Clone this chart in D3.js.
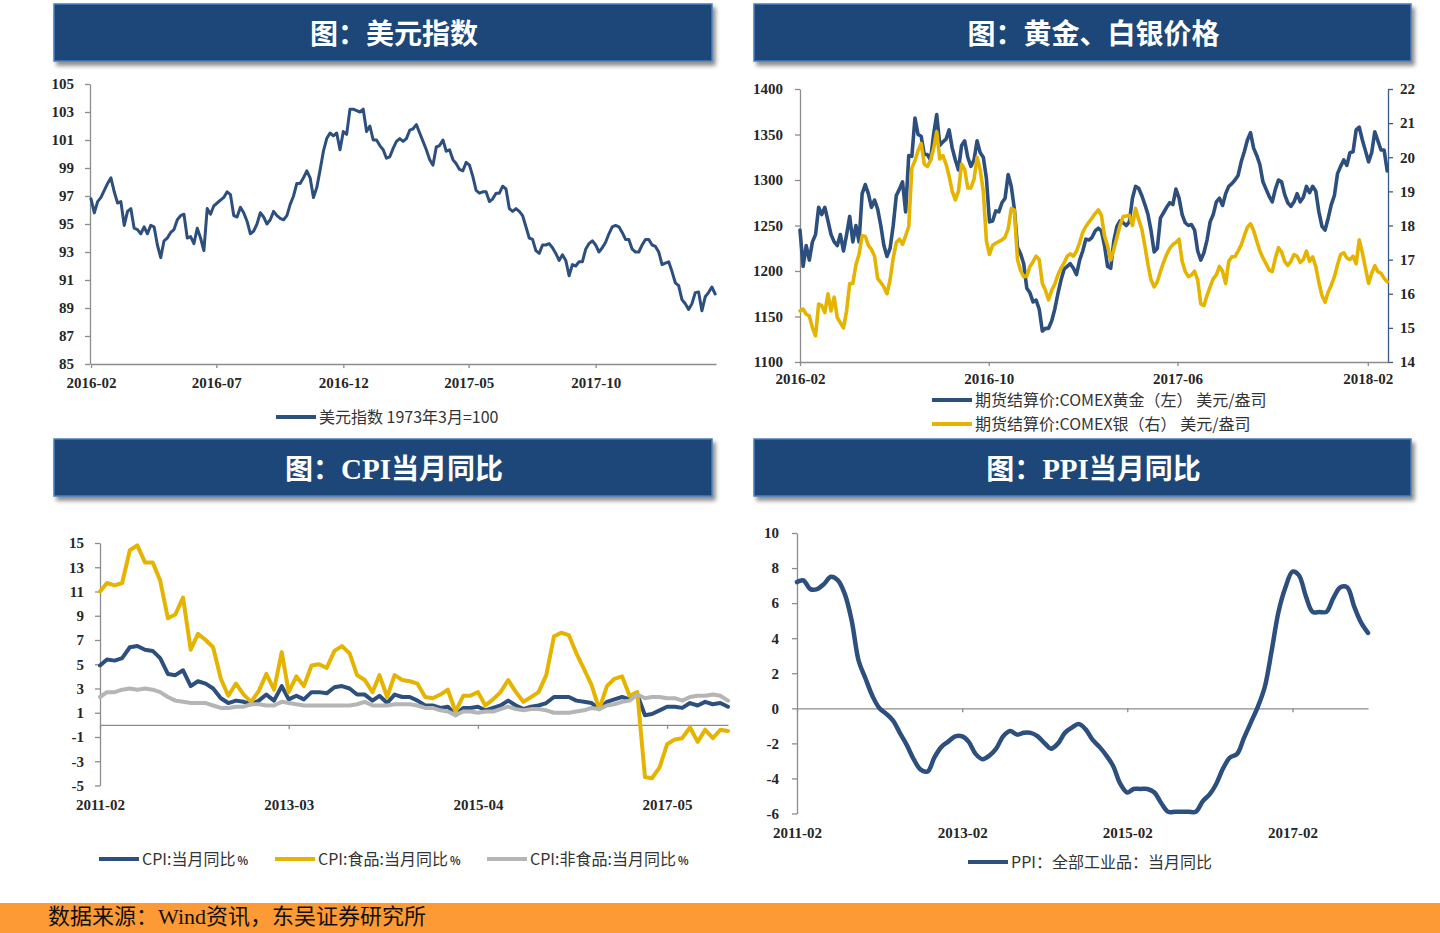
<!DOCTYPE html>
<html>
<head>
<meta charset="utf-8">
<script src="https://cdn.jsdelivr.net/npm/d3@7"></script>
<style>
body { margin: 0; background: #fff; }
svg { display: block; }
.tick text { font-family: "Liberation Serif", "Times New Roman", serif; font-weight: bold; font-size: 15px; fill: #262626; }
.legend text { font-family: "Noto Sans CJK SC", sans-serif; font-size: 16px; fill: #333; }
</style>
</head>
<body>
<svg id="chart" width="1440" height="933"></svg>
<script>
// ---- data ----
var usdStart = "2016-02-01", usdStep = 4; // one value every 4 days
var usdValues = [
96.8,95.8,96.6,96.9,97.4,97.9,98.3,97.3,96.5,96.6,
94.9,95.9,96.1,94.7,94.6,94.3,94.8,94.3,94.9,94.8,
93.5,92.6,93.8,94.0,94.4,94.6,95.3,95.6,95.7,94.0,
94.1,93.6,94.7,94.0,93.1,96.1,95.7,96.3,96.5,96.7,
96.9,97.3,97.1,95.6,95.5,96.2,95.8,95.2,94.3,94.5,
95.0,95.8,95.5,95.0,95.3,95.9,95.6,95.4,95.3,95.6,
96.4,97.0,97.9,97.9,98.3,98.8,98.3,96.9,97.6,98.85,
100.2,101.1,101.5,101.3,101.5,100.3,101.6,101.4,103.2,103.2,
103.1,103.0,103.2,101.6,102.0,101.0,101.0,100.6,100.3,99.7,
99.8,100.4,100.9,101.1,100.9,101.1,101.7,101.8,102.1,101.5,
100.9,100.3,99.6,99.2,100.5,100.6,101.0,100.2,100.3,99.6,
99.3,98.9,98.8,99.4,99.2,98.4,97.4,97.2,97.3,97.3,
96.6,96.8,97.2,97.2,97.7,97.5,96.1,95.9,96.1,95.9,
95.6,94.8,94.0,93.9,93.1,92.9,93.5,93.5,93.6,93.3,
92.9,92.4,92.8,92.4,91.3,92.1,92.0,92.3,92.3,93.2,
93.6,93.8,93.5,93.0,93.3,93.7,94.3,94.8,94.9,94.8,
94.4,93.9,93.9,93.2,93.0,93.0,93.5,93.9,93.9,93.5,
93.4,93.0,92.1,92.2,92.3,91.6,90.8,90.6,89.6,89.3,
88.9,89.3,90.1,90.15,88.8,89.8,90.1,90.5,90.0
];
var usdYTicks = [85, 87, 89, 91, 93, 95, 97, 99, 101, 103, 105];
var usdXTicks = ["2016-02", "2016-07", "2016-12", "2017-05", "2017-10"];

var metalStart = "2016-02-01", metalStep = 4;
var goldValues = [
1245,1205,1228,1212,1232,1240,1270,1262,1270,1255,
1240,1232,1228,1240,1222,1240,1260,1232,1250,1232,
1285,1295,1285,1270,1278,1268,1250,1228,1216,1225,
1250,1283,1290,1298,1265,1327,1326,1368,1350,1348,
1328,1328,1322,1350,1372,1338,1342,1345,1355,1335,
1322,1311,1338,1343,1325,1315,1322,1343,1330,1325,
1302,1254,1255,1266,1265,1275,1280,1306,1293,1268,
1226,1219,1208,1181,1176,1166,1168,1158,1134,1137,
1137,1145,1158,1175,1190,1202,1205,1208,1203,1196,
1212,1222,1235,1234,1237,1244,1247,1244,1228,1205,
1203,1233,1249,1255,1253,1250,1254,1280,1293,1291,
1283,1273,1262,1244,1221,1225,1258,1264,1270,1275,
1273,1290,1280,1262,1253,1250,1251,1245,1222,1212,
1220,1234,1254,1262,1276,1280,1272,1285,1293,1296,
1300,1305,1320,1331,1344,1352,1335,1327,1317,1298,
1290,1282,1276,1290,1300,1298,1284,1275,1271,1276,
1285,1276,1281,1293,1286,1293,1288,1265,1249,1245,
1258,1273,1283,1307,1315,1322,1316,1330,1331,1355,
1358,1344,1332,1320,1330,1353,1343,1333,1333,1310
];
var silverValues = [
15.5,15.55,15.4,15.35,15.0,14.77,15.7,15.65,15.45,16.0,
15.5,15.9,15.3,15.15,15.0,15.5,16.3,16.3,16.85,17.15,
17.7,17.68,17.42,17.3,17.1,16.45,16.33,16.2,16.0,16.41,
17.05,17.5,17.6,17.45,17.7,17.97,19.68,19.9,20.2,20.4,
19.8,19.73,19.9,20.25,20.75,19.95,20.05,19.8,19.45,19.0,
18.75,19.0,19.8,19.65,19.1,19.1,19.35,20.0,19.63,19.0,
17.55,17.15,17.42,17.48,17.53,17.58,17.66,17.9,18.5,18.45,
17.0,16.68,16.5,16.52,16.8,16.94,17.1,17.0,16.3,16.1,
15.82,16.1,16.28,16.55,16.75,16.9,17.1,17.17,17.1,17.25,
17.5,17.8,17.97,18.1,18.22,18.35,18.46,18.3,17.7,17.4,
16.99,17.3,17.65,18.0,18.26,18.28,18.3,18.0,18.5,18.17,
17.9,17.4,16.85,16.4,16.2,16.35,16.65,16.92,17.15,17.33,
17.44,17.5,17.6,16.95,16.65,16.5,16.55,16.66,16.4,15.7,
15.65,15.95,16.2,16.44,16.55,16.8,16.66,16.3,16.95,17.08,
17.09,17.25,17.43,17.7,17.95,18.05,17.85,17.55,17.25,17.05,
16.88,16.7,16.65,17.05,17.35,17.22,16.95,16.83,16.95,17.15,
17.1,16.92,17.0,17.25,16.95,17.08,16.8,16.33,15.95,15.75,
16.05,16.25,16.5,16.85,17.15,17.2,17.05,17.0,17.1,16.88,
17.58,17.2,16.75,16.3,16.6,16.82,16.65,16.6,16.45,16.35
];
var goldYTicks = [1100, 1150, 1200, 1250, 1300, 1350, 1400];
var silverYTicks = [14, 15, 16, 17, 18, 19, 20, 21, 22];
var metalXTicks = ["2016-02", "2016-10", "2017-06", "2018-02"];

// monthly, 2011-02 .. 2018-01
var monthFirst = "2011-02", monthLast = "2018-01";
var cpiAll = [
4.9,5.4,5.3,5.5,6.4,6.5,6.2,6.1,5.5,4.2,4.1,
4.5,3.2,3.6,3.4,3.0,2.2,1.8,2.0,1.9,1.7,2.0,2.5,
2.0,3.2,2.1,2.4,2.1,2.7,2.7,2.6,3.1,3.2,3.0,2.5,
2.5,2.0,2.4,1.8,2.5,2.3,2.3,2.0,1.6,1.6,1.4,1.5,
0.8,1.4,1.4,1.5,1.2,1.4,1.6,2.0,1.6,1.3,1.5,1.6,
1.8,2.3,2.3,2.3,2.0,1.9,1.8,1.3,1.9,2.1,2.3,2.1,
2.5,0.8,0.9,1.2,1.5,1.5,1.4,1.8,1.6,1.9,1.7,1.8,
1.5
];
var cpiFood = [
11.0,11.7,11.5,11.7,14.4,14.8,13.4,13.4,11.9,8.8,9.1,
10.5,6.2,7.5,7.0,6.4,3.8,2.4,3.4,2.5,1.9,2.8,4.2,
2.9,6.0,2.7,4.0,3.2,4.9,5.0,4.7,6.1,6.5,5.9,4.1,
3.7,2.7,4.1,2.3,4.1,3.7,3.6,3.4,2.3,2.2,2.5,2.9,
1.1,2.4,2.4,2.7,1.6,2.1,2.7,3.7,2.7,1.9,2.3,2.7,
4.1,7.3,7.6,7.4,5.9,4.6,3.3,1.3,3.2,3.8,4.0,2.4,
2.7,-4.3,-4.4,-3.5,-1.6,-1.2,-1.1,-0.2,-1.4,-0.4,-1.1,-0.4,
-0.5
];
var cpiNonFood = [
2.3,2.7,2.7,2.9,3.0,2.9,3.0,2.9,2.7,2.3,2.0,
1.9,1.8,1.8,1.8,1.6,1.4,1.4,1.5,1.5,1.7,1.7,1.6,
1.6,1.9,1.8,1.7,1.6,1.6,1.6,1.6,1.6,1.6,1.6,1.7,
1.9,1.6,1.6,1.6,1.7,1.7,1.7,1.6,1.4,1.4,1.2,1.1,
0.8,1.1,1.1,1.0,1.1,1.1,1.3,1.5,1.3,1.2,1.3,1.3,
1.2,1.0,1.0,1.0,1.1,1.2,1.4,1.3,1.6,1.7,1.9,2.0,
2.5,2.2,2.3,2.3,2.2,2.2,2.0,2.3,2.4,2.4,2.5,2.4,
2.0
];
var ppiAll = [
7.2,7.3,6.8,6.8,7.1,7.5,7.3,6.5,5.0,2.7,1.7,
0.7,0.0,-0.3,-0.7,-1.4,-2.1,-2.9,-3.5,-3.6,-2.8,-2.2,-1.9,
-1.6,-1.6,-1.9,-2.6,-2.9,-2.7,-2.3,-1.6,-1.3,-1.5,-1.4,-1.4,
-1.6,-2.0,-2.3,-2.0,-1.4,-1.1,-0.9,-1.2,-1.8,-2.2,-2.7,-3.3,
-4.3,-4.8,-4.6,-4.6,-4.6,-4.8,-5.4,-5.9,-5.9,-5.9,-5.9,-5.9,
-5.3,-4.9,-4.3,-3.4,-2.8,-2.6,-1.7,-0.8,0.1,1.2,3.3,5.5,
6.9,7.8,7.6,6.4,5.5,5.5,5.5,6.3,6.9,6.9,5.8,4.9,
4.3
];
var cpiYTicks = [-5, -3, -1, 1, 3, 5, 7, 9, 11, 13, 15];
var cpiXTicks = ["2011-02", "2013-03", "2015-04", "2017-05"];
var ppiYTicks = [-6, -4, -2, 0, 2, 4, 6, 8, 10];
var ppiXTicks = ["2011-02", "2013-02", "2015-02", "2017-02"];

var navy = "#2d4f7d", gold = "#e4b400", grey = "#b5b5b5", axisGrey = "#8c8c8c";

// ---- helpers ----
var parseDay = d3.timeParse("%Y-%m-%d");
var parseMonth = d3.timeParse("%Y-%m");
var fmtMonth = d3.timeFormat("%Y-%m");
var svg = d3.select("#chart");

var shadow = svg.append("defs").append("filter").attr("id", "shadow")
    .attr("x", "-5%").attr("y", "-20%").attr("width", "112%").attr("height", "150%");
shadow.append("feDropShadow").attr("dx", 3).attr("dy", 4).attr("stdDeviation", 2.2)
    .attr("flood-color", "#000").attr("flood-opacity", 0.45);

function header(x, y, w, h, parts) {
    svg.append("rect").attr("x", x).attr("y", y).attr("width", w).attr("height", h)
        .attr("fill", "#1f4778").attr("stroke", "#4a7ebb").attr("stroke-width", 1.5)
        .attr("filter", "url(#shadow)");
    var t = svg.append("text").attr("x", x + w / 2 + 11).attr("y", y + h / 2 + 11)
        .attr("text-anchor", "middle").attr("fill", "#fff").attr("font-size", 28)
        .attr("font-weight", "bold").attr("font-family", "'Noto Sans CJK SC', sans-serif");
    parts.forEach(function(p) {
        var s = t.append("tspan").text(p[0]);
        if (p[1]) s.attr("font-family", "'Liberation Serif', serif").attr("font-size", 29);
    });
}

function styleAxis(g, color) {
    g.select(".domain").attr("stroke", color || axisGrey).attr("stroke-width", 1.3);
    g.selectAll(".tick line").attr("stroke", color || axisGrey).attr("stroke-width", 1.3);
}

function fmtNum(d) { return String(d); }

function dailyDates(start, step, n) {
    var s = parseDay(start);
    return d3.range(n).map(function(i) { return d3.timeDay.offset(s, i * step); });
}

function legend(x, y, color, label, pct) {
    var g = svg.append("g").attr("class", "legend");
    g.append("line").attr("x1", x).attr("x2", x + 40).attr("y1", y).attr("y2", y)
        .attr("stroke", color).attr("stroke-width", 4);
    var t = g.append("text").attr("x", x + 43).attr("y", y + 5.5).text(label);
    if (pct) t.append("tspan").attr("font-size", 11).attr("font-weight", "bold").attr("dx", 2).text("%");
}

function drawLine(dates, values, x, y, color, width, curve) {
    var line = d3.line()
        .x(function(d, i) { return x(dates[i]); })
        .y(function(d) { return y(d); })
        .curve(curve || d3.curveLinear);
    svg.append("path").datum(values).attr("d", line)
        .attr("fill", "none").attr("stroke", color).attr("stroke-width", width)
        .attr("stroke-linejoin", "round").attr("stroke-linecap", "round");
}

// ---- headers ----
header(54, 4, 658, 57, [["图：美元指数"]]);
header(754, 4, 657, 57, [["图：黄金、白银价格"]]);
header(54, 439, 658, 57, [["图："], ["CPI", true], ["当月同比"]]);
header(754, 439, 657, 57, [["图："], ["PPI", true], ["当月同比"]]);

// ---- panel 1: USD index ----
(function() {
    var dates = dailyDates(usdStart, usdStep, usdValues.length);
    var x = d3.scaleTime().domain([parseDay("2016-02-01"), parseDay("2018-02-23")]).range([91, 716]);
    var y = d3.scaleLinear().domain([85, 105]).range([364, 84]);

    var gy = svg.append("g").attr("transform", "translate(90,0)")
        .call(d3.axisLeft(y).tickValues(usdYTicks).tickFormat(fmtNum).tickSize(5).tickPadding(11).tickSizeOuter(0));
    styleAxis(gy);
    var gx = svg.append("g").attr("transform", "translate(0,364)")
        .call(d3.axisBottom(x).tickValues(usdXTicks.map(parseMonth)).tickFormat(fmtMonth).tickSize(4).tickPadding(9).tickSizeOuter(0));
    styleAxis(gx);

    drawLine(dates, usdValues, x, y, navy, 3);
    legend(276, 417, navy, "美元指数 1973年3月=100");
})();

// ---- panel 2: gold & silver ----
(function() {
    var dates = dailyDates(metalStart, metalStep, goldValues.length);
    var x = d3.scaleTime().domain([parseDay("2016-02-01"), parseDay("2018-02-27")]).range([800, 1388]);
    var yL = d3.scaleLinear().domain([1100, 1400]).range([362, 89]);
    var yR = d3.scaleLinear().domain([14, 22]).range([362, 89]);

    var gl = svg.append("g").attr("transform", "translate(800,0)")
        .call(d3.axisLeft(yL).tickValues(goldYTicks).tickFormat(fmtNum).tickSize(5).tickPadding(12).tickSizeOuter(0));
    styleAxis(gl);
    var gr = svg.append("g").attr("transform", "translate(1388,0)")
        .call(d3.axisRight(yR).tickValues(silverYTicks).tickFormat(fmtNum).tickSize(5).tickPadding(7).tickSizeOuter(0));
    styleAxis(gr, "#3a5b88");
    var gx = svg.append("g").attr("transform", "translate(0,362)")
        .call(d3.axisBottom(x).tickValues(metalXTicks.map(parseMonth)).tickFormat(fmtMonth).tickSize(4).tickPadding(7).tickSizeOuter(0));
    styleAxis(gx);

    drawLine(dates, goldValues, x, yL, navy, 3.6);
    drawLine(dates, silverValues, x, yR, gold, 3.6);

    legend(932, 400, navy, "期货结算价:COMEX黄金（左） 美元/盎司");
    legend(932, 424, gold, "期货结算价:COMEX银（右） 美元/盎司");
})();

// ---- monthly panels ----
var months = d3.timeMonth.range(parseMonth(monthFirst), d3.timeMonth.offset(parseMonth(monthLast), 1));

function monthlyPanel(x0, x1, yTop, yBottom, yDomain, yTicks, xTicks, pad) {
    var x = d3.scaleTime().domain([months[0], months[months.length - 1]]).range([x0, x1]);
    var y = d3.scaleLinear().domain(yDomain).range([yBottom, yTop]);

    var gy = svg.append("g").attr("transform", "translate(" + x0 + ",0)")
        .call(d3.axisLeft(y).tickValues(yTicks).tickFormat(fmtNum).tickSize(5).tickPadding(pad).tickSizeOuter(0));
    styleAxis(gy);
    // zero line with ticks
    var gz = svg.append("g").attr("transform", "translate(0," + y(0) + ")")
        .call(d3.axisBottom(x).tickValues(xTicks.map(parseMonth)).tickFormat("").tickSize(4).tickSizeOuter(0));
    styleAxis(gz);
    // labels at the bottom
    var gb = svg.append("g").attr("transform", "translate(0," + yBottom + ")")
        .call(d3.axisBottom(x).tickValues(xTicks.map(parseMonth)).tickFormat(fmtMonth).tickSize(0).tickPadding(13.5));
    gb.select(".domain").remove();
    return { x: x, y: y };
}

(function() {
    var p = monthlyPanel(100, 728, 543, 785.5, [-5, 15], cpiYTicks, cpiXTicks, 11);
    drawLine(months, cpiAll, p.x, p.y, navy, 4);
    drawLine(months, cpiFood, p.x, p.y, gold, 4);
    drawLine(months, cpiNonFood, p.x, p.y, grey, 4);
    legend(99, 859, navy, "CPI:当月同比", true);
    legend(275, 859, gold, "CPI:食品:当月同比", true);
    legend(487, 859, grey, "CPI:非食品:当月同比", true);
})();

(function() {
    var p = monthlyPanel(797, 1368, 533, 813.5, [-6, 10], ppiYTicks, ppiXTicks, 13);
    drawLine(months, ppiAll, p.x, p.y, navy, 4.5, d3.curveCatmullRom.alpha(0.5));
    legend(968, 862, navy, "PPI：全部工业品：当月同比");
})();

// ---- footer ----
svg.append("rect").attr("x", 0).attr("y", 903).attr("width", 1440).attr("height", 30).attr("fill", "#fd9a35");
svg.append("text").attr("x", 48).attr("y", 924)
    .attr("font-family", "'Liberation Serif', 'Noto Sans CJK SC', serif").attr("font-size", 22)
    .attr("fill", "#111").text("数据来源：Wind资讯，东吴证券研究所");
</script>
</body>
</html>
